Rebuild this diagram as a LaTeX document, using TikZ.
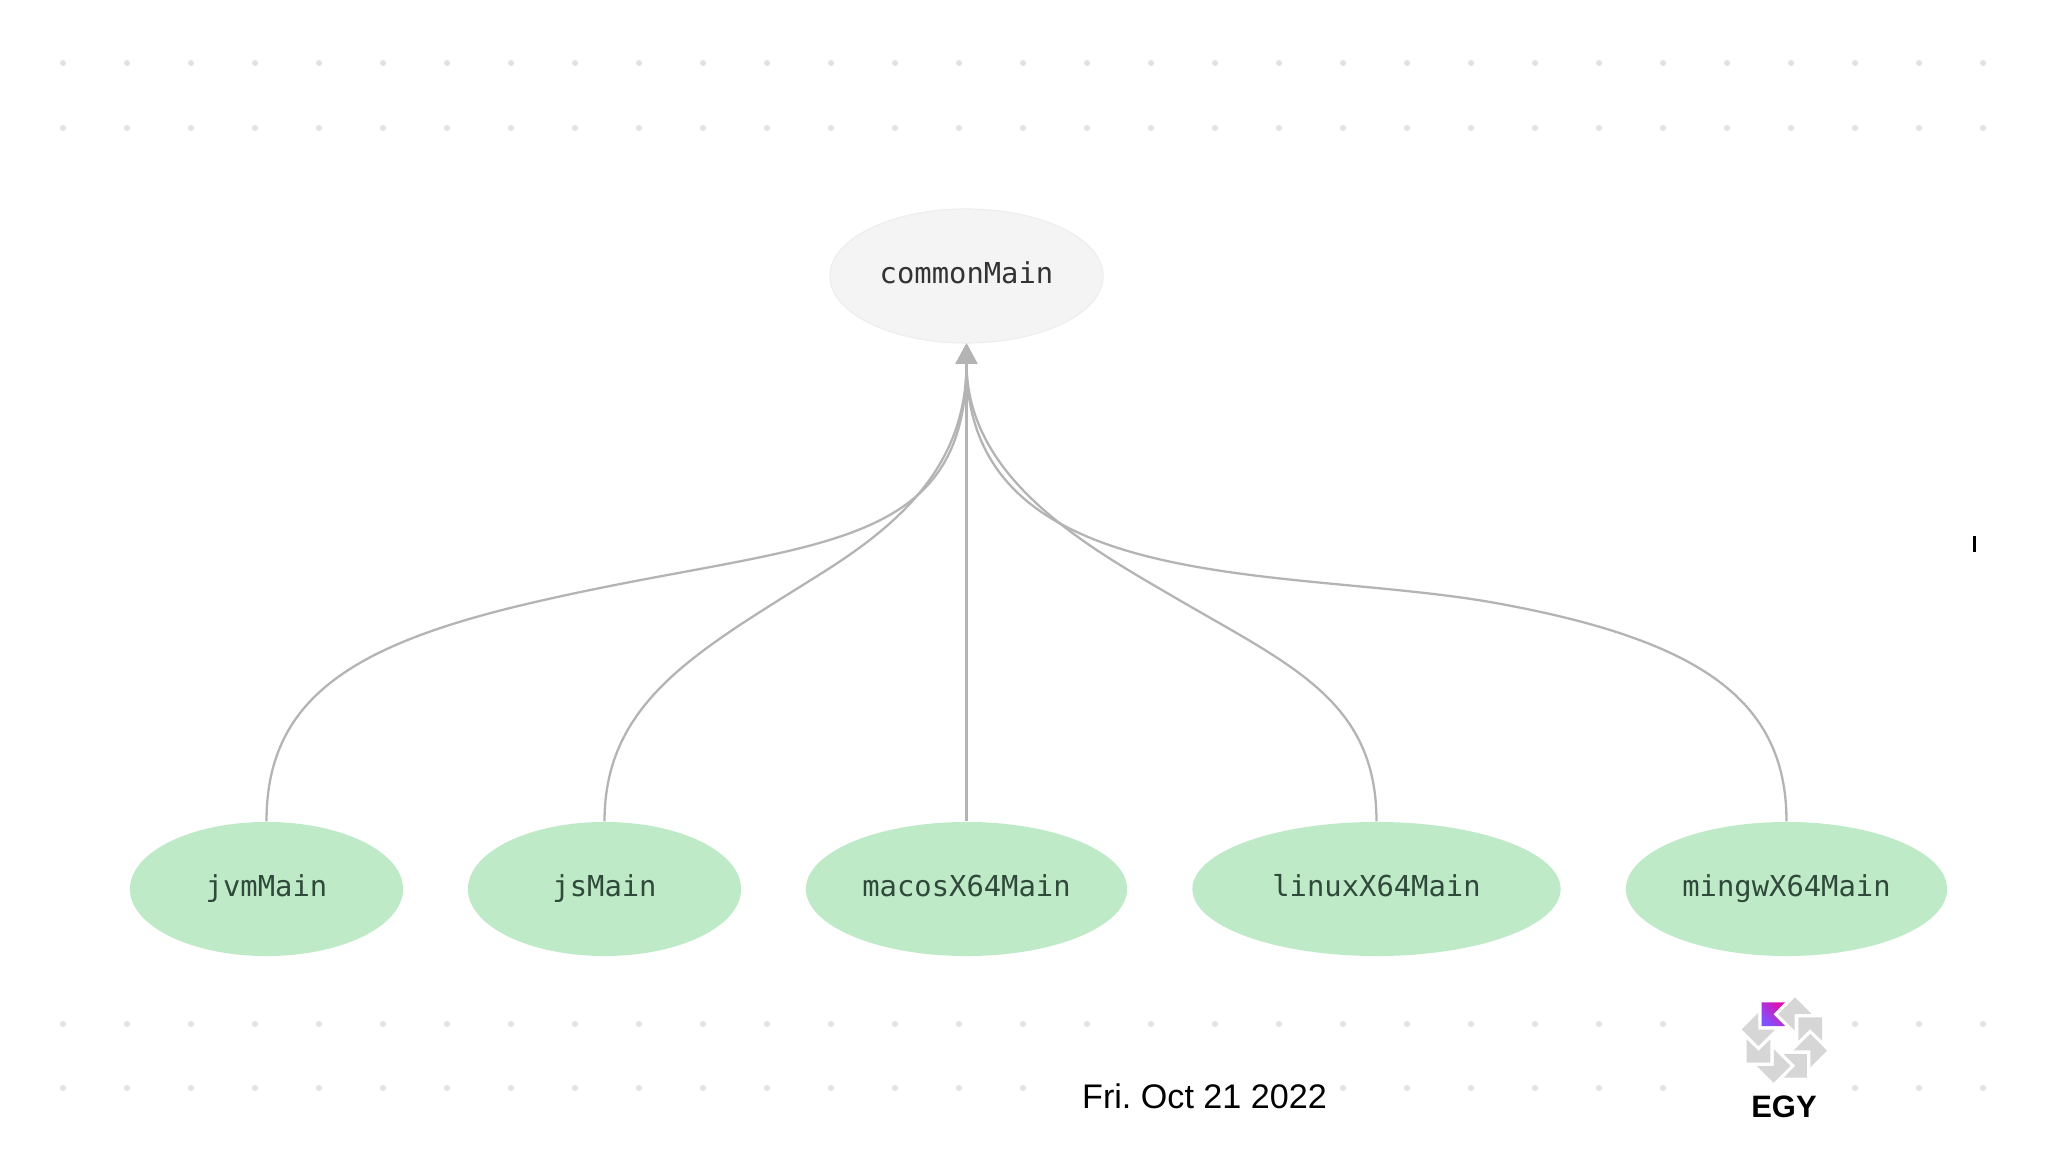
\documentclass[tikz,border=0pt]{standalone}
\usepackage{fontspec}
\setmainfont{Liberation Sans}
\setmonofont{DejaVu Sans Mono}
\usetikzlibrary{arrows.meta,shapes.geometric}

\definecolor{srcgreen}{HTML}{BFEAC8}
\definecolor{srcgray}{HTML}{F4F4F4}
\definecolor{srctext}{HTML}{2F4A3A}
\definecolor{linegray}{HTML}{B4B4B4}
\definecolor{dotgray}{HTML}{E2E2E2}
\definecolor{logogray}{HTML}{D6D6D6}
\definecolor{logoblue}{HTML}{7F52FF}
\definecolor{logomid}{HTML}{C81CE0}
\definecolor{logopink}{HTML}{E20EB0}

\tikzset{
    srcset/.style={ellipse, inner sep=0pt, minimum height=1.34cm, fill=srcgreen,
        text=srctext, text height=6.2pt, text depth=1.8pt,
        font=\fontsize{8.2}{10}\selectfont\ttfamily},
    dep/.style={color=linegray, line width=0.65pt, -{Triangle[length=5.7pt,width=6pt]}}
}

\begin{document}
\frenchspacing
\begin{tikzpicture}[x=0.01cm,y=-0.01cm]
    \useasboundingbox (0,0) rectangle (2048,1152);
    \fill[white] (0,0) rectangle (2048,1152);

    % dot rows
    \foreach \k in {0,...,30} {
        \foreach \y in {63,128,1024,1088} {
            \fill[dotgray] (63+64*\k,\y) circle (3);
        }
    }
    \fill[white] (1700,995) rectangle (1840,1125);

    % source sets
    \node[srcset, minimum width=2.73cm, fill=srcgray, draw=black!7, line width=0.3pt,
        text=black!80] (common) at (966.5,276) {commonMain};
    \node[srcset, minimum width=2.73cm] (jvm) at (266.5,889) {jvmMain};
    \node[srcset, minimum width=2.73cm] (js) at (604.5,889) {jsMain};
    \node[srcset, minimum width=3.21cm] (macos) at (966.5,889) {macosX64Main};
    \node[srcset, minimum width=3.68cm] (linux) at (1376.5,889) {linuxX64Main};
    \node[srcset, minimum width=3.21cm] (mingw) at (1786.5,889) {mingwX64Main};

    % dependencies, left side
    \draw[dep] (jvm.north)
        .. controls (266.5,700) and (350,645) .. (531,603)
        .. controls (800,540) and (966.5,560) .. (common.south);
    \draw[dep] (js.north)
        .. controls (604.5,700) and (700,650) .. (822,573)
        .. controls (900,524) and (966.5,465) .. (common.south);
    \draw[dep] (macos.north) -- (common.south);
    % dependencies, right side
    \draw[dep] (linux.north)
        .. controls (1376.5,700) and (1290,665) .. (1174,597)
        .. controls (1090,548) and (966.5,480) .. (common.south);
    \draw[dep] (mingw.north)
        .. controls (1786.5,700) and (1700,640) .. (1495.6,603)
        .. controls (1290,566) and (966.5,600) .. (common.south);

    % date
    \node[anchor=base, fill=white, inner sep=1pt, font=\fontsize{9.7}{12}\selectfont]
        (date) at (1204.5,1108) {Fri. Oct 21 2022};

    % logo
    \foreach \a in {45,90,...,315} {
        \fill[logogray, rotate around={-\a:(1784.3,1040)}]
            (1761.7,1002.3) -- (1785,1002.3) -- (1773.3,1014.3) -- (1785,1026) -- (1761.7,1026) -- cycle;
    }
    \shade[bottom color=logoblue, middle color=logomid, top color=logopink, shading angle=-45]
        (1761.7,1002.3) -- (1785,1002.3) -- (1773.3,1014.3) -- (1785,1026) -- (1761.7,1026) -- cycle;
    \node[anchor=base, inner sep=0pt, font=\fontsize{8.8}{10}\selectfont\bfseries] (egy) at (1784,1117) {EGY};

    % stray mark
    \fill[black] (1973,536) rectangle (1976,552);
\end{tikzpicture}
\end{document}
